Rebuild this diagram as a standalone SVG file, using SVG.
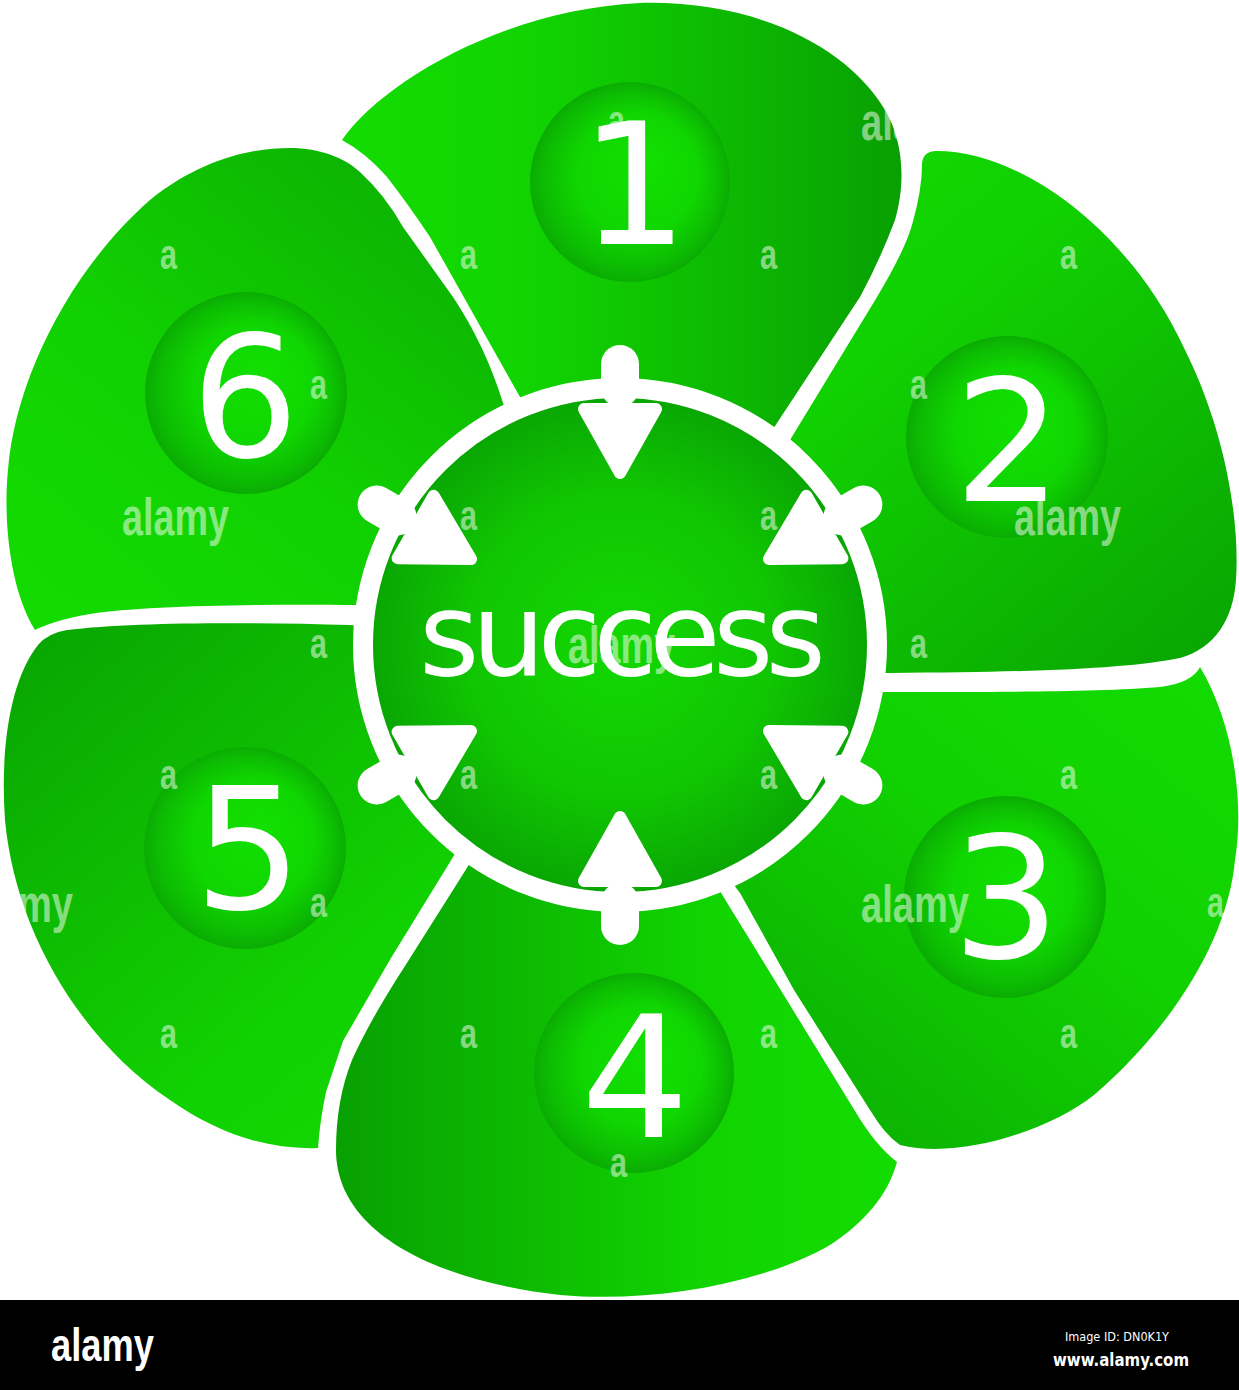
<svg xmlns="http://www.w3.org/2000/svg" width="1239" height="1390" viewBox="0 0 1239 1390">
<defs>
<style>
.num{font-family:"DejaVu Sans","Liberation Sans",sans-serif;font-size:170px;fill:#fff;text-anchor:middle}
.wm{font-family:"Liberation Sans",Arial,sans-serif;font-weight:bold;fill:#fff;fill-opacity:0.5}
.wa{font-size:42px}
.wb{font-size:51px}
.arrow{fill:#fff}
.head{fill:#fff;stroke:#fff;stroke-width:12;stroke-linejoin:round}
.badge{stroke:none}
</style>
<linearGradient id="gLR" x1="0" y1="0" x2="1" y2="0"><stop offset="0" stop-color="#13dc01"/><stop offset="0.35" stop-color="#11d301"/><stop offset="1" stop-color="#08a002"/></linearGradient>
<linearGradient id="gRL" x1="0" y1="0" x2="1" y2="0"><stop offset="0" stop-color="#08a002"/><stop offset="0.65" stop-color="#11d301"/><stop offset="1" stop-color="#13dc01"/></linearGradient>
<linearGradient id="gTLBR" x1="0" y1="0" x2="1" y2="1"><stop offset="0" stop-color="#13dc01"/><stop offset="0.4" stop-color="#11d101"/><stop offset="1" stop-color="#09a302"/></linearGradient>
<linearGradient id="gBRTL" x1="0" y1="0" x2="1" y2="1"><stop offset="0" stop-color="#09a302"/><stop offset="0.6" stop-color="#11d101"/><stop offset="1" stop-color="#13dc01"/></linearGradient>
<linearGradient id="gTRBL" x1="1" y1="0" x2="0" y2="1"><stop offset="0" stop-color="#13dc01"/><stop offset="0.4" stop-color="#11d101"/><stop offset="1" stop-color="#09a302"/></linearGradient>
<linearGradient id="gBLTR" x1="1" y1="0" x2="0" y2="1"><stop offset="0" stop-color="#09a302"/><stop offset="0.6" stop-color="#11d101"/><stop offset="1" stop-color="#13dc01"/></linearGradient>
<radialGradient id="gCenter" cx="0.5" cy="0.5" r="0.5"><stop offset="0" stop-color="#13d802"/><stop offset="0.6" stop-color="#10c602"/><stop offset="1" stop-color="#09a503"/></radialGradient>
<radialGradient id="gBadge" cx="0.5" cy="0.5" r="0.5" fx="0.6" fy="0.4"><stop offset="0" stop-color="#12e001"/><stop offset="0.6" stop-color="#10d601"/><stop offset="0.88" stop-color="#0cbc02"/><stop offset="1" stop-color="#0aac02"/></radialGradient>
</defs>
<rect x="0" y="0" width="1239" height="1390" fill="#fff"/>

<g id="petal-1">
<path fill="url(#gLR)" d="M545,441 L520,397 L430,237 Q408,204 387,177 Q366,153 342,140 C380,85 500,10 640,3 C760,0 850,50 885,110 C900,135 908,175 895,220 Q880,260 860,297 L777,423 L740,480 L620,645 Z"/>
<circle class="badge" cx="630" cy="182" r="100" fill="url(#gBadge)"/>
<text class="num" x="634" y="244">1</text>
</g>
<g id="petal-2">
<path fill="url(#gTLBR)" d="M760,491 L790,440 L877,297 Q905,250 912,225 Q922,190 922,165 Q922,152 935,151 C1020,150 1130,230 1185,350 C1225,430 1240,520 1236,580 C1233,620 1215,648 1180,658 C1130,668 1050,672 890,673 L860,673 L620,645 Z"/>
<circle class="badge" cx="1007" cy="437" r="101" fill="url(#gBadge)"/>
<text class="num" x="1008" y="501">2</text>
</g>
<g id="petal-3">
<path fill="url(#gTRBL)" d="M860,692 L887,692 C1000,692 1100,692 1160,687 Q1192,683 1200,667 C1232,720 1245,800 1235,860 C1228,940 1170,1030 1094,1095 C1050,1130 960,1160 900,1145 Q885,1135 870,1110 L794,990 L740,893 L708,851 L620,645 Z"/>
<circle class="badge" cx="1005" cy="897" r="101" fill="url(#gBadge)"/>
<text class="num" x="1006" y="958">3</text>
</g>
<g id="petal-4">
<path fill="url(#gRL)" d="M491,828 L465,871 L405,966 Q370,1020 352,1060 Q336,1100 336,1150 C336,1230 430,1280 560,1295 C650,1303 760,1285 830,1245 C865,1222 888,1195 897,1162 Q875,1145 855,1111 L726,901 L700,858 L620,645 Z"/>
<circle class="badge" cx="634" cy="1073" r="100" fill="url(#gBadge)"/>
<text class="num" x="635" y="1137">4</text>
</g>
<g id="petal-5">
<path fill="url(#gBRTL)" d="M380,628 L350,625 C250,622 130,622 67,630 Q48,633 38,645 C10,680 0,750 5,820 C15,930 80,1040 170,1100 C220,1135 270,1150 318,1148 Q320,1120 326,1092 L343,1041 L391,958 L450,862 L475,820 L620,645 Z"/>
<circle class="badge" cx="245" cy="848" r="101" fill="url(#gBadge)"/>
<text class="num" x="248" y="909">5</text>
</g>
<g id="petal-6">
<path fill="url(#gBLTR)" d="M380,605 L353,605 C260,604 140,606 90,614 Q55,620 35,630 C10,590 3,520 8,470 C15,380 70,270 150,200 C200,160 250,148 290,148 C320,148 345,158 360,172 Q385,195 403,227 L453,297 Q485,345 503,403 L524,448 L620,645 Z"/>
<circle class="badge" cx="246" cy="393" r="101" fill="url(#gBadge)"/>
<text class="num" x="245" y="457">6</text>
</g>

<g id="center">
<circle cx="620" cy="645" r="252" fill="url(#gCenter)"/>
<circle cx="620" cy="645" r="257" fill="none" stroke="#fff" stroke-width="20"/>
<text x="419" y="675" textLength="407" lengthAdjust="spacing" style="font-family:'DejaVu Sans','Liberation Sans',sans-serif;font-size:116px;fill:#fff">success</text>
</g>

<g id="connectors">
<g transform="rotate(0 620 645)"><rect class="arrow" x="601" y="345" width="38" height="62" rx="19"/><path class="head" d="M584,409 L656,409 L620,473 Z"/></g>
<g transform="rotate(60 620 645)"><rect class="arrow" x="601" y="345" width="38" height="62" rx="19"/><path class="head" d="M584,409 L656,409 L620,473 Z"/></g>
<g transform="rotate(120 620 645)"><rect class="arrow" x="601" y="345" width="38" height="62" rx="19"/><path class="head" d="M584,409 L656,409 L620,473 Z"/></g>
<g transform="rotate(180 620 645)"><rect class="arrow" x="601" y="345" width="38" height="62" rx="19"/><path class="head" d="M584,409 L656,409 L620,473 Z"/></g>
<g transform="rotate(240 620 645)"><rect class="arrow" x="601" y="345" width="38" height="62" rx="19"/><path class="head" d="M584,409 L656,409 L620,473 Z"/></g>
<g transform="rotate(300 620 645)"><rect class="arrow" x="601" y="345" width="38" height="62" rx="19"/><path class="head" d="M584,409 L656,409 L620,473 Z"/></g>
</g>

<g id="watermark" class="wm">
<text class="wb" x="861" y="140" textLength="108" lengthAdjust="spacingAndGlyphs">alamy</text>
<text class="wb" x="122" y="535" textLength="107" lengthAdjust="spacingAndGlyphs">alamy</text>
<text class="wb" x="1014" y="535" textLength="107" lengthAdjust="spacingAndGlyphs">alamy</text>
<text class="wb" x="568" y="663" textLength="107" lengthAdjust="spacingAndGlyphs">alamy</text>
<text class="wb" x="861" y="922" textLength="108" lengthAdjust="spacingAndGlyphs">alamy</text>
<text class="wb" x="-35" y="922" textLength="108" lengthAdjust="spacingAndGlyphs">alamy</text>
<text class="wa" x="608" y="135" textLength="17" lengthAdjust="spacingAndGlyphs">a</text>
<text class="wa" x="160" y="269" textLength="17" lengthAdjust="spacingAndGlyphs">a</text>
<text class="wa" x="460" y="269" textLength="17" lengthAdjust="spacingAndGlyphs">a</text>
<text class="wa" x="760" y="269" textLength="17" lengthAdjust="spacingAndGlyphs">a</text>
<text class="wa" x="1060" y="269" textLength="17" lengthAdjust="spacingAndGlyphs">a</text>
<text class="wa" x="310" y="399" textLength="17" lengthAdjust="spacingAndGlyphs">a</text>
<text class="wa" x="910" y="399" textLength="17" lengthAdjust="spacingAndGlyphs">a</text>
<text class="wa" x="1207" y="399" textLength="17" lengthAdjust="spacingAndGlyphs">a</text>
<text class="wa" x="460" y="530" textLength="17" lengthAdjust="spacingAndGlyphs">a</text>
<text class="wa" x="760" y="530" textLength="17" lengthAdjust="spacingAndGlyphs">a</text>
<text class="wa" x="310" y="658" textLength="17" lengthAdjust="spacingAndGlyphs">a</text>
<text class="wa" x="910" y="658" textLength="17" lengthAdjust="spacingAndGlyphs">a</text>
<text class="wa" x="160" y="789" textLength="17" lengthAdjust="spacingAndGlyphs">a</text>
<text class="wa" x="460" y="789" textLength="17" lengthAdjust="spacingAndGlyphs">a</text>
<text class="wa" x="760" y="789" textLength="17" lengthAdjust="spacingAndGlyphs">a</text>
<text class="wa" x="1060" y="789" textLength="17" lengthAdjust="spacingAndGlyphs">a</text>
<text class="wa" x="310" y="917" textLength="17" lengthAdjust="spacingAndGlyphs">a</text>
<text class="wa" x="1207" y="917" textLength="17" lengthAdjust="spacingAndGlyphs">a</text>
<text class="wa" x="160" y="1048" textLength="17" lengthAdjust="spacingAndGlyphs">a</text>
<text class="wa" x="460" y="1048" textLength="17" lengthAdjust="spacingAndGlyphs">a</text>
<text class="wa" x="760" y="1048" textLength="17" lengthAdjust="spacingAndGlyphs">a</text>
<text class="wa" x="1060" y="1048" textLength="17" lengthAdjust="spacingAndGlyphs">a</text>
<text class="wa" x="610" y="1177" textLength="17" lengthAdjust="spacingAndGlyphs">a</text>
</g>

<g id="footer">
<rect x="0" y="1300" width="1239" height="90" fill="#000"/>
<text x="51" y="1361" textLength="103" lengthAdjust="spacingAndGlyphs" style="font-family:'Liberation Sans',Arial,sans-serif;font-weight:bold;font-size:47px;fill:#fff">alamy</text>
<text x="1065" y="1341" textLength="104" lengthAdjust="spacingAndGlyphs" style="font-family:'DejaVu Sans','Liberation Sans',sans-serif;font-size:13px;fill:#fff">Image ID: DN0K1Y</text>
<text x="1053" y="1366" textLength="136" lengthAdjust="spacingAndGlyphs" style="font-family:'DejaVu Sans','Liberation Sans',sans-serif;font-weight:bold;font-size:17px;fill:#fff">www.alamy.com</text>
</g>
</svg>
